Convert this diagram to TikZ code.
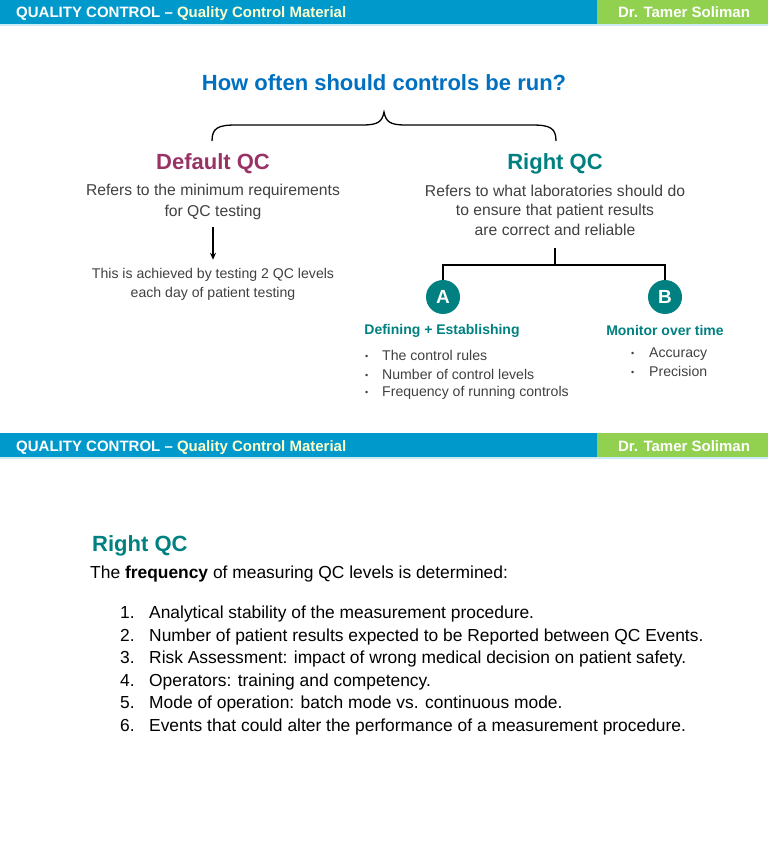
\documentclass[tikz,border=0pt]{standalone}
\usepackage{fontspec}
\setmainfont{Liberation Sans}
\newfontfamily\hdrfont{Liberation Sans}
\usetikzlibrary{arrows.meta, positioning}
\definecolor{hdrblue}{HTML}{0099CC}
\definecolor{hdrgreen}{HTML}{92D050}
\definecolor{hdryellow}{HTML}{FFFFCC}
\definecolor{hdrline}{HTML}{CDEBF5}
\definecolor{titleblue}{HTML}{0070C0}
\definecolor{dfltred}{HTML}{993366}
\definecolor{qcteal}{HTML}{008080}
\definecolor{bodygray}{HTML}{404040}
\newcommand{\bul}[1]{\makebox[#1][l]{\fontsize{9}{9}\selectfont\raisebox{1pt}{•}}}

\begin{document}
\begin{tikzpicture}[x=1pt, y=-1pt,
    hdr/.style={font=\hdrfont\bfseries\fontsize{15}{17}\selectfont, text=white, inner sep=0},
    heading/.style={font=\bfseries\fontsize{22}{24}\selectfont, inner sep=0},
    desc/.style={font=\fontsize{15.7}{20.5}\selectfont, text=bodygray, align=center, inner sep=0},
    small/.style={font=\fontsize{14.1}{19}\selectfont, text=bodygray, inner sep=0},
    letter/.style={circle, fill=qcteal, minimum size=34pt, inner sep=0, text=white, font=\bfseries\fontsize{19}{19}\selectfont},
    sub/.style={font=\bfseries\fontsize{14}{16}\selectfont, text=qcteal, inner sep=0},
    body/.style={font=\fontsize{17.4}{19}\selectfont, anchor=west, inner sep=0}]
  \useasboundingbox (0,0) rectangle (768,866);

  % header bars
  \foreach \y in {0, 433} {
    \fill[hdrblue] (0,\y) rectangle (597,\y+24);
    \fill[hdrgreen] (597,\y) rectangle (768,\y+24);
    \fill[hdrline] (0,\y+24) rectangle (768,\y+26);
  }
  \node[hdr, anchor=base west] (hdrone) at (16,18) {QUALITY CONTROL – \textcolor{hdryellow}{Quality Control Material}};
  \node[hdr, anchor=base] (nameone) at (684,18) {Dr. Tamer Soliman};
  \node[hdr, anchor=base west] (hdrtwo) at (16,451) {QUALITY CONTROL – \textcolor{hdryellow}{Quality Control Material}};
  \node[hdr, anchor=base] (nametwo) at (684,451) {Dr. Tamer Soliman};

  % top slide
  \node[heading, text=titleblue] (title) at (384,83) {How often should controls be run?};
  \draw[line width=1.3pt] (212,141) .. controls (212,128) and (218,125) .. (236,125)
    -- (362,125) .. controls (378,125) and (382,122) .. (384,112)
    .. controls (386,122) and (390,125) .. (406,125) -- (532,125)
    .. controls (550,125) and (556,128) .. (556,141);

  \node[heading, text=dfltred] (dflt) at (213,164) {Default QC};
  \node[heading, text=qcteal] (right) at (555,164) {Right QC};

  \node[desc] (dfltdesc) at (213,202) {Refers to the minimum requirements\\for QC testing};
  \node[small, align=center] (dfltach) at (213,284) {This is achieved by testing 2 QC levels\\each day of patient testing};
  \draw[-{Stealth[length=7pt,width=6pt]}, line width=1.3pt] ([yshift=-7pt]dfltdesc.south) -- ([yshift=8pt]dfltach.north);

  \node[desc, font=\fontsize{15.7}{19.5}\selectfont] (rightdesc) at (555,210) {Refers to what laboratories should do\\to ensure that patient results\\are correct and reliable};

  \node[letter] (circA) at (443,297) {A};
  \node[letter] (circB) at (665,297) {B};
  \coordinate (fork) at (555,265);
  \draw[line width=1.6pt] ([yshift=-13pt]rightdesc.south) -- (fork) -| (circA.north);
  \draw[line width=1.6pt] (fork) -| (circB.north);

  \node[sub] (defA) at (442,331) {Defining + Establishing};
  \node[sub] (monB) at (665,330) {Monitor over time};

  \foreach \t [count=\i] in {The control rules, Number of control levels, Frequency of running controls}
    \node[small, anchor=west] (itemA-\i) at (365,336+19*\i) {\bul{17pt}\t};
  \foreach \t [count=\i] in {Accuracy, Precision}
    \node[small, anchor=west] (itemB-\i) at (631,337+17*\i) {\bul{18pt}\t};

  % bottom slide
  \node[heading, anchor=west, text=qcteal] (rightqc) at (92,546) {Right QC};
  \node[body] (freq) at (90,574) {The \textbf{frequency} of measuring QC levels is determined:};
  \foreach \t [count=\i] in {
      {Analytical stability of the measurement procedure.},
      {Number of patient results expected to be Reported between QC Events.},
      {Risk Assessment: impact of wrong medical decision on patient safety.},
      {Operators: training and competency.},
      {Mode of operation: batch mode vs. continuous mode.},
      {Events that could alter the performance of a measurement procedure.}}
    \node[body] (fitem-\i) at (120,591.4+22.6*\i) {\makebox[29pt][l]{\i.}\t};
\end{tikzpicture}
\end{document}
